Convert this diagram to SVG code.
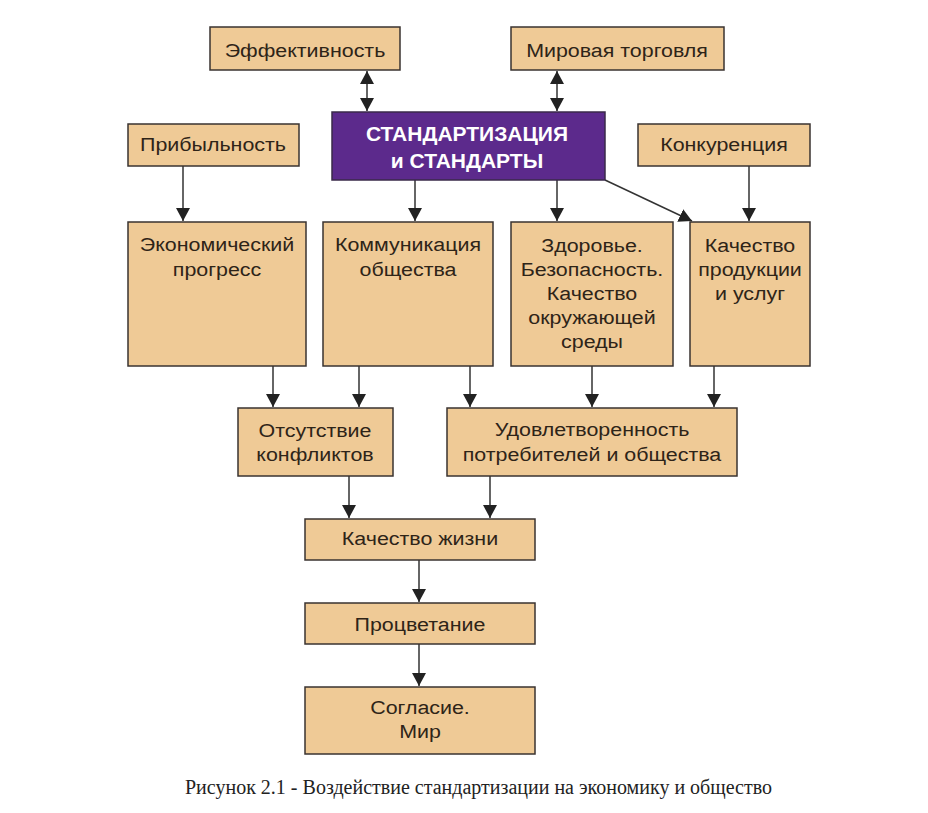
<svg xmlns="http://www.w3.org/2000/svg" width="928" height="813" viewBox="0 0 928 813">
<style>
.box{fill:#efca96;stroke:#3a3330;stroke-width:1.5}
.main{fill:#5c2a8c;stroke:#3a2a4a;stroke-width:1.5}
.t{font-family:"Liberation Sans",Arial,sans-serif;font-size:18px;fill:#2e2418;text-anchor:middle}
.tm{font-family:"Liberation Sans",Arial,sans-serif;font-size:20px;font-weight:bold;fill:#ffffff;text-anchor:middle}
.cap{font-family:"Liberation Serif","Times New Roman",serif;font-size:20px;fill:#222222}
.c{stroke:#333333;stroke-width:1.5;fill:none;marker-end:url(#ah)}
.cd{stroke:#333333;stroke-width:1.5;fill:none;marker-end:url(#ah);marker-start:url(#ah)}
</style>
<defs>
<marker id="ah" viewBox="0 0 10 10" refX="10" refY="5" markerUnits="userSpaceOnUse" markerWidth="13" markerHeight="14" preserveAspectRatio="none" orient="auto-start-reverse">
<path d="M0,0 L10,5 L0,10 z" fill="#222222"/>
</marker>
</defs>
<rect width="928" height="813" fill="#ffffff"/>

<g id="connectors">
<line class="cd" x1="367" y1="71" x2="367" y2="111"/>
<line class="cd" x1="557" y1="71" x2="557" y2="111"/>
<line class="c" x1="183" y1="166" x2="183" y2="221"/>
<line class="c" x1="415" y1="180" x2="415" y2="221"/>
<line class="c" x1="557" y1="180" x2="557" y2="221"/>
<line class="c" x1="749" y1="166" x2="749" y2="221"/>
<line class="c" x1="605" y1="180" x2="692" y2="221"/>
<line class="c" x1="273" y1="366" x2="273" y2="407"/>
<line class="c" x1="359" y1="366" x2="359" y2="407"/>
<line class="c" x1="470" y1="366" x2="470" y2="407"/>
<line class="c" x1="592" y1="366" x2="592" y2="407"/>
<line class="c" x1="714" y1="366" x2="714" y2="407"/>
<line class="c" x1="349" y1="476" x2="349" y2="518"/>
<line class="c" x1="490" y1="476" x2="490" y2="518"/>
<line class="c" x1="419" y1="560" x2="419" y2="602"/>
<line class="c" x1="419" y1="644" x2="419" y2="686"/>
</g>

<g id="n-effektivnost">
<rect class="box" x="210" y="27" width="190" height="43"/>
<text class="t" transform="translate(305,57) scale(1.19,1)">Эффективность</text>
</g>
<g id="n-mirovaya">
<rect class="box" x="511" y="27" width="213" height="43"/>
<text class="t" transform="translate(617,57) scale(1.19,1)">Мировая торговля</text>
</g>
<g id="n-pribylnost">
<rect class="box" x="128" y="124" width="171" height="42"/>
<text class="t" transform="translate(213,151) scale(1.19,1)">Прибыльность</text>
</g>
<g id="n-standart">
<rect class="main" x="332" y="112" width="273" height="68"/>
<text class="tm" transform="translate(467,0) scale(1.05,1)"><tspan x="0" y="141">СТАНДАРТИЗАЦИЯ</tspan><tspan x="0" y="168">и СТАНДАРТЫ</tspan></text>
</g>
<g id="n-konkurenciya">
<rect class="box" x="638" y="124" width="172" height="42"/>
<text class="t" transform="translate(724,151) scale(1.19,1)">Конкуренция</text>
</g>
<g id="n-ekonom">
<rect class="box" x="128" y="222" width="178" height="144"/>
<text class="t" transform="translate(217,0) scale(1.19,1)"><tspan x="0" y="251">Экономический</tspan><tspan x="0" y="276">прогресс</tspan></text>
</g>
<g id="n-kommunikaciya">
<rect class="box" x="323" y="222" width="170" height="144"/>
<text class="t" transform="translate(408,0) scale(1.19,1)"><tspan x="0" y="251">Коммуникация</tspan><tspan x="0" y="276">общества</tspan></text>
</g>
<g id="n-zdorovie">
<rect class="box" x="511" y="222" width="162" height="144"/>
<text class="t" transform="translate(592,0) scale(1.19,1)"><tspan x="0" y="252">Здоровье.</tspan><tspan x="0" y="276">Безопасность.</tspan><tspan x="0" y="300">Качество</tspan><tspan x="0" y="324">окружающей</tspan><tspan x="0" y="348">среды</tspan></text>
</g>
<g id="n-kachestvo-prod">
<rect class="box" x="690" y="222" width="120" height="144"/>
<text class="t" transform="translate(750,0) scale(1.19,1)"><tspan x="0" y="252">Качество</tspan><tspan x="0" y="276">продукции</tspan><tspan x="0" y="300">и услуг</tspan></text>
</g>
<g id="n-otsutstvie">
<rect class="box" x="238" y="408" width="155" height="68"/>
<text class="t" transform="translate(315,0) scale(1.19,1)"><tspan x="0" y="437">Отсутствие</tspan><tspan x="0" y="461">конфликтов</tspan></text>
</g>
<g id="n-udovl">
<rect class="box" x="447" y="408" width="290" height="68"/>
<text class="t" transform="translate(592,0) scale(1.19,1)"><tspan x="0" y="436">Удовлетворенность</tspan><tspan x="0" y="461">потребителей и общества</tspan></text>
</g>
<g id="n-kachestvo-zhizni">
<rect class="box" x="305" y="519" width="230" height="41"/>
<text class="t" transform="translate(420,545) scale(1.19,1)">Качество жизни</text>
</g>
<g id="n-procvetanie">
<rect class="box" x="305" y="603" width="230" height="41"/>
<text class="t" transform="translate(420,631) scale(1.19,1)">Процветание</text>
</g>
<g id="n-soglasie">
<rect class="box" x="305" y="687" width="230" height="67"/>
<text class="t" transform="translate(420,0) scale(1.19,1)"><tspan x="0" y="714">Согласие.</tspan><tspan x="0" y="738">Мир</tspan></text>
</g>

<text class="cap" x="185" y="794" textLength="587" lengthAdjust="spacingAndGlyphs">Рисунок 2.1 - Воздействие стандартизации на экономику и общество</text>
</svg>
